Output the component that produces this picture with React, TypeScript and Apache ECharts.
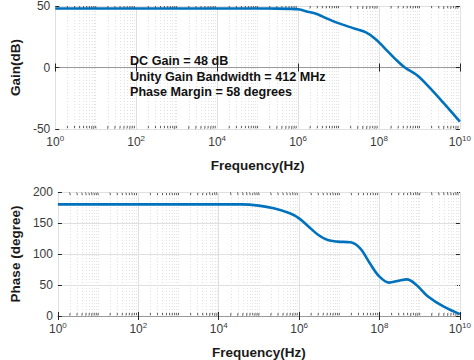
import React, { useEffect, useRef } from "react";
import * as echarts from "echarts";

// Bode plot data
const gainFreq = [1, 1e4, 1e5, 3.16e5, 6.3e5, 1e6, 1.74e6, 3.02e6, 5.01e6, 9.12e6, 2.29e7, 4.79e7, 8.32e7, 1.45e8, 2.51e8, 4.37e8, 8.91e8, 1.86e9, 3.98e9, 1e10];
const gainDb = [48, 48, 48, 47.9, 47.7, 47.3, 45.4, 43.3, 40, 36.5, 32, 28.5, 23, 15, 7, 0, -6.5, -17, -29, -44];
const phaseFreq = [1, 1e4, 3.72e4, 1e5, 2.34e5, 5.89e5, 1e6, 1.74e6, 3.02e6, 5.13e6, 9.12e6, 1.91e7, 3.31e7, 5.75e7, 1e8, 1.74e8, 3.02e8, 4.79e8, 8.32e8, 1.58e9, 3.98e9, 1e10];
const phaseDeg = [180, 180, 180, 178, 173.7, 165.6, 157.5, 144, 130.6, 122.6, 120, 118.8, 109, 85, 63.4, 53.8, 57, 59, 50, 32, 15, 3];
const decadeExponents = [0, 1, 2, 3, 4, 5, 6, 7, 8, 9];
const minorMultipliers = [1, 2, 3, 4, 5, 6, 7, 8, 9];
const annotations = ["DC Gain = 48 dB", "Unity Gain Bandwidth = 412 MHz", "Phase Margin = 58 degrees"];

const FONT = '"Liberation Sans", Arial, Helvetica, sans-serif';
const BLUE = "#0072BD";
const LABEL = "#3a3a3a";

// minor grid / tick positions (log-axis decoration)
const minorFreqs: number[] = [];
decadeExponents.forEach((e) => {
  minorMultipliers.forEach((m) => {
    if (m === 1 && e % 2 === 0) return;
    minorFreqs.push(m * Math.pow(10, e));
  });
});

const zip = (xs: number[], ys: number[]) => xs.map((x, i) => [x, ys[i]]);

export default function App() {
  const ref = useRef<HTMLDivElement>(null);
  useEffect(() => {
    if (!ref.current) return;
    const chart = echarts.init(ref.current, undefined, { renderer: "svg" });

    const grids = [
      { left: 43, right: 13, top: 5, height: 124 },
      { left: 43, right: 13, top: 192, height: 124 },
    ];

    const xLabel = {
      margin: 5,
      color: LABEL,
      fontFamily: FONT,
      formatter: (v: number) => `{b|10}{s|${Math.round(Math.log10(v))}}`,
      rich: {
        b: { fontSize: 12, fontFamily: FONT, color: LABEL, lineHeight: 16 },
        s: { fontSize: 8, fontFamily: FONT, color: LABEL, verticalAlign: "top", lineHeight: 10, padding: [0, 0, 7, 0] },
      },
    };

    const nameStyle = { fontWeight: "bold", fontSize: 13.5, color: "#1a1a1a", fontFamily: FONT };

    const xAxes: any[] = [];
    const yAxes: any[] = [];
    [0, 1].forEach((g) => {
      xAxes.push({
        gridIndex: g,
        type: "log",
        logBase: 10,
        min: 1,
        max: 1e10,
        interval: 2,
        splitNumber: 5,
        axisLine: { show: g === 0, lineStyle: { color: "#262626", width: 1 } },
        axisTick: { show: true, inside: true, length: 4, lineStyle: { color: "#262626" } },
        axisLabel: xLabel,
        splitLine: { show: true, lineStyle: { color: "#e0e0e0", width: 1 } },
        name: "Frequency(Hz)",
        nameLocation: "middle",
        nameGap: 29,
        nameTextStyle: nameStyle,
      });
      xAxes.push({
        gridIndex: g,
        type: "log",
        logBase: 10,
        min: 1,
        max: 1e10,
        interval: 2,
        splitNumber: 5,
        position: "top",
        axisLine: { show: true, lineStyle: { color: "#9a9a9a", width: 1 } },
        axisTick: { show: true, inside: true, length: 4, lineStyle: { color: "#262626" } },
        axisLabel: { show: false },
        splitLine: { show: false },
      });
    });

    const yTick = { show: true, inside: true, length: 4, lineStyle: { color: "#262626" } };
    yAxes.push({
      gridIndex: 0,
      type: "value",
      min: -50,
      max: 50,
      interval: 50,
      axisLine: { show: false },
      axisTick: yTick,
      axisLabel: { color: LABEL, fontSize: 12, fontFamily: FONT, margin: 5 },
      splitLine: { show: true, lineStyle: { color: "#e0e0e0" } },
      name: "Gain(dB)",
      nameLocation: "middle",
      nameGap: 33,
      nameRotate: 90,
      nameTextStyle: nameStyle,
    });
    yAxes.push({
      gridIndex: 0,
      type: "value",
      min: -50,
      max: 50,
      interval: 50,
      position: "right",
      axisLine: { show: false },
      axisTick: yTick,
      axisLabel: { show: false },
      splitLine: { show: false },
    });
    yAxes.push({
      gridIndex: 1,
      type: "value",
      min: 0,
      max: 200,
      interval: 50,
      axisLine: { show: false },
      axisTick: yTick,
      axisLabel: { color: LABEL, fontSize: 12, fontFamily: FONT, margin: 5 },
      splitLine: { show: true, lineStyle: { color: "#e0e0e0" } },
      name: "Phase (degree)",
      nameLocation: "middle",
      nameGap: 35,
      nameRotate: 90,
      nameTextStyle: nameStyle,
    });
    yAxes.push({
      gridIndex: 1,
      type: "value",
      min: 0,
      max: 200,
      interval: 50,
      position: "right",
      axisLine: { show: false },
      axisTick: yTick,
      axisLabel: { show: false },
      splitLine: { show: false },
    });

    const series: any[] = [];
    const ranges = [
      [-50, 50],
      [0, 200],
    ];
    [0, 1].forEach((g) => {
      // minor dotted grid lines
      series.push({
        type: "line",
        xAxisIndex: g * 2,
        yAxisIndex: g * 2,
        data: [],
        silent: true,
        z: 1,
        markLine: {
          silent: true,
          symbol: "none",
          animation: false,
          label: { show: false },
          lineStyle: { type: [1, 2], color: "#e2e2e2", width: 1 },
          data: minorFreqs.map((f) => ({ xAxis: f })),
        },
      });
      // minor ticks bottom and top
      series.push({
        type: "scatter",
        xAxisIndex: g * 2,
        yAxisIndex: g * 2,
        silent: true,
        symbol: "rect",
        symbolSize: [1, 3],
        symbolOffset: [0, -1.5],
        itemStyle: { color: "#333" },
        data: minorFreqs.map((f) => [f, ranges[g][0]]),
        z: 2,
      });
      series.push({
        type: "scatter",
        xAxisIndex: g * 2,
        yAxisIndex: g * 2,
        silent: true,
        symbol: "rect",
        symbolSize: [1, 3],
        symbolOffset: [0, 1.5],
        itemStyle: { color: "#333" },
        data: minorFreqs.map((f) => [f, ranges[g][1]]),
        z: 2,
      });
    });

    series.push({
      type: "line",
      xAxisIndex: 0,
      yAxisIndex: 0,
      data: zip(gainFreq, gainDb),
      showSymbol: false,
      smooth: 0.35,
      lineStyle: { color: BLUE, width: 2.6 },
      z: 5,
    });
    series.push({
      type: "line",
      xAxisIndex: 2,
      yAxisIndex: 2,
      data: zip(phaseFreq, phaseDeg),
      showSymbol: false,
      smooth: 0.35,
      lineStyle: { color: BLUE, width: 2.6 },
      z: 5,
    });

    chart.setOption({
      animation: false,
      backgroundColor: "#ffffff",
      grid: grids,
      xAxis: xAxes,
      yAxis: yAxes,
      series,
      graphic: annotations.map((t, i) => ({
        type: "text",
        x: 130,
        y: 61 + i * 15.7,
        z: 10,
        style: {
          text: t,
          fontSize: 12.6,
          fontWeight: "bold",
          fontFamily: FONT,
          fill: "#111",
          verticalAlign: "middle",
        },
      })),
    });
    return () => chart.dispose();
  }, []);
  return (
    <div
      ref={ref}
      style={{ position: "fixed", left: 0, top: 0, width: 474, height: 360, background: "#fff" }}
    />
  );
}
